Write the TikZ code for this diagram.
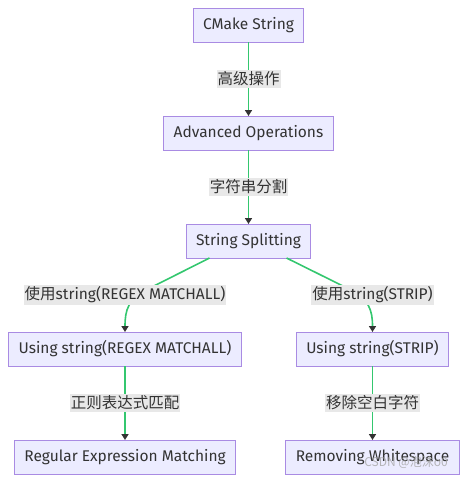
\documentclass[tikz,border=0pt]{standalone}
\usepackage{fontspec}
\setmainfont{Fira Sans}
\newfontfamily\cjk{Noto Sans CJK SC}
\usetikzlibrary{arrows.meta,positioning}
\definecolor{nodefill}{HTML}{ECECFF}
\definecolor{nodeline}{HTML}{A98BE3}
\definecolor{edgegreen}{HTML}{34C76F}
\definecolor{lblfill}{HTML}{E8E8E8}
\definecolor{txt}{HTML}{333333}

\begin{document}
\begin{tikzpicture}[x=1pt, y=-1pt, node distance=74pt,
    every node/.style={font=\fontsize{15.5}{17}\selectfont, text=txt},
    box/.style={draw=nodeline, line width=1pt, fill=nodefill, minimum height=34pt,
                inner xsep=10pt, outer sep=0pt},
    lbl/.style={fill=lblfill, inner xsep=1pt, inner ysep=2pt, font=\fontsize{15.5}{17}\selectfont},
    edge/.style={draw=edgegreen, line width=1.6pt,
                 -{Triangle[length=6pt, width=7pt, color=txt]}}]
  \useasboundingbox (0,0) rectangle (468,482);

  \node[box] (cms) at (248.5,25) {CMake String};
  \node[box, below=of cms] (adv) {Advanced Operations};
  \node[box, below=of adv] (split) {String Splitting};
  \node[box] (regex) at (125,349) {Using string(REGEX MATCHALL)};
  \node[box] (strip) at (372.5,349) {Using string(STRIP)};
  \node[box, below=of regex] (match) {Regular Expression Matching};
  \node[box, below=of strip] (white) {Removing Whitespace};

  \coordinate (lbend) at (148,289);
  \coordinate (rbend) at (349,289);

  \draw[edge] (cms) -- node[lbl] {\cjk 高级操作} (adv);
  \draw[edge] (adv) -- node[lbl] {\cjk 字符串分割} (split);
  \draw[edge] ([xshift=-39pt]split.south) -- (lbend)
    .. controls (128,299) and (125,310) .. (regex.north)
    node[lbl] at (125,295) {{\cjk 使用}string(REGEX MATCHALL)};
  \draw[edge] ([xshift=38pt]split.south) -- (rbend)
    .. controls (369,299) and (372.5,310) .. (strip.north)
    node[lbl] at (372.5,295) {{\cjk 使用}string(STRIP)};
  \draw[edge] (regex) -- node[lbl] {\cjk 正则表达式匹配} (match);
  \draw[edge] (strip) -- node[lbl] {\cjk 移除空白字符} (white);

  % watermark
  \node[text=gray!70, opacity=0.8, font=\cjk\fontsize{12}{14}\selectfont] (wm) at (406,462) {CSDN @泡沫o0};
\end{tikzpicture}
\end{document}
